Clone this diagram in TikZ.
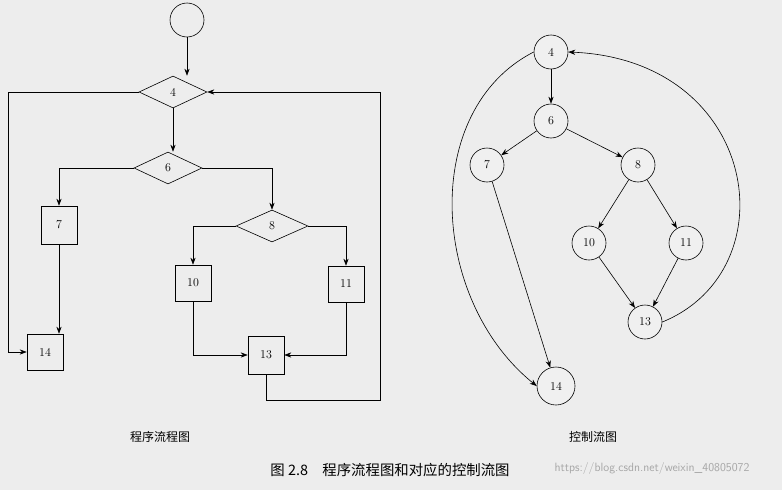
\documentclass[tikz,border=0pt]{standalone}
\usepackage{fontspec}
\newfontfamily\cjk{Noto Sans CJK SC}
\usetikzlibrary{shapes.geometric,arrows.meta}
\begin{document}
\begin{tikzpicture}[x=1pt,y=-1pt,
  dia/.style={diamond,draw,aspect=2.2,inner sep=1pt,minimum width=68pt,minimum height=32pt,font=\large},
  boxn/.style={rectangle,draw,minimum width=36pt,minimum height=38pt,font=\large},
  cn/.style={circle,draw,minimum size=34pt,inner sep=0pt,font=\large,fill=black!6},
  arr/.style={-{Stealth[length=7pt]},semithick},
  every node/.append style={semithick}]
\fill[black!7] (0,0) rectangle (782,490);
\useasboundingbox (0,0) rectangle (782,490);
% left flowchart
\node[circle,draw,minimum size=34pt] (s) at (187,20) {};
\node[dia] (d4) at (173,92) {4};
\node[dia] (d6) at (168,168) {6};
\node[dia,minimum width=72pt] (d8) at (272,226) {8};
\node[boxn] (b7) at (59,225) {7};
\node[boxn,minimum height=36pt] (b10) at (193,283) {10};
\node[boxn,minimum height=36pt] (b11) at (346,284) {11};
\node[boxn,minimum height=36pt] (b14) at (45,352) {14};
\node[boxn] (b13) at (266,355) {13};
\draw[arr] (s.south) -- (s.south |- d4.north);
\draw[arr] (d4.south) -- (d4.south |- d6.north);
\draw[arr] (d6.west) -| (b7.north);
\draw[arr] (d6.east) -| (d8.north);
\draw[arr] (d8.west) -| (b10.north);
\draw[arr] (d8.east) -| (b11.north);
\draw[arr] (b10.south) |- (b13.west);
\draw[arr] (b11.south) |- (b13.east);
\coordinate (r1) at (380,400);
\draw[arr] (b13.south) |- (r1) |- (d4.east);
\coordinate (l1) at (8,92);
\draw[arr] (d4.west) -- (l1) |- (b14.west);
\draw[arr] (b7.south) -- (b7.south |- b14.north);
\node[font=\cjk\large] (c1) at (160,437) {程序流程图};
% right graph
\node[cn] (n4) at (551,52) {4};
\node[cn] (n6) at (551,121) {6};
\node[cn] (n7) at (487,165) {7};
\node[cn] (n8) at (638,165) {8};
\node[cn] (n10) at (589,243) {10};
\node[cn] (n11) at (686,243) {11};
\node[cn] (n13) at (645,322) {13};
\node[cn,minimum size=38pt] (n14) at (556,386) {14};
\draw[arr] (n4) -- (n6);
\draw[arr] (n6) -- (n7);
\draw[arr] (n6) -- (n8);
\draw[arr] (n8) -- (n10);
\draw[arr] (n8) -- (n11);
\draw[arr] (n10) -- (n13);
\draw[arr] (n11) -- (n13);
\draw[arr] (n7) -- (n14);
\draw[arr] (n4.west) .. controls (420,110) and (430,300) .. (n14.west);
\draw[arr] (n13.east) .. controls (790,270) and (760,60) .. (n4.east);
\node[font=\cjk\large] (c2) at (593,437) {控制流图};
\node[font=\cjk\Large] (cap) at (390,470) {图 2.8\quad 程序流程图和对应的控制流图};
\node[font=\sffamily\large,text=black!35] (wm) at (652,468) {https://blog.csdn.net/weixin\_40805072};
\end{tikzpicture}
\end{document}
